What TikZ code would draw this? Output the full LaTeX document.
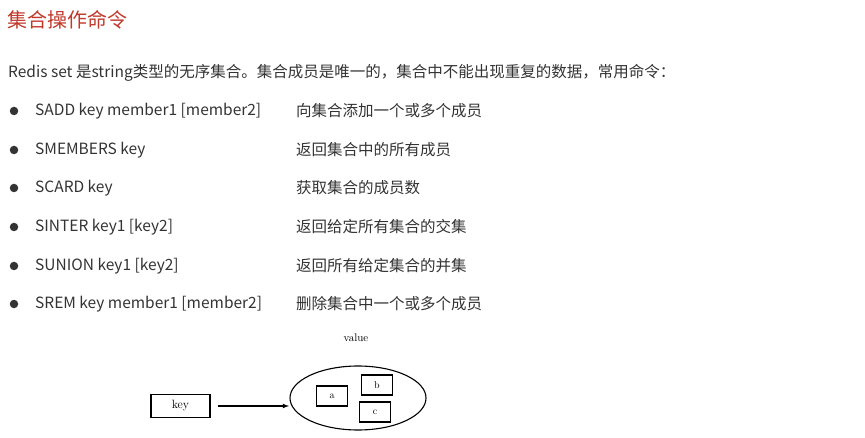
\documentclass[tikz,border=0pt]{standalone}
\usepackage{fontspec}
\setmainfont{Noto Sans CJK SC}
\begin{document}
\begin{tikzpicture}[x=1pt,y=1pt,
  txt/.style={anchor=west,inner sep=0pt,text=textgray,font=\fontsize{15.5}{18}\selectfont},
  bul/.style={circle,fill=textgray,inner sep=0pt,minimum size=8.5pt},
  hand/.style={draw,line width=1.1pt,minimum width=31pt,minimum height=20pt,inner sep=0pt,font=\rmfamily\fontsize{11}{12}\selectfont}]
\definecolor{textgray}{HTML}{333333}
\definecolor{titlered}{HTML}{C0392B}
\useasboundingbox (0,0) rectangle (865,437);
\newfontfamily\lmr{Latin Modern Roman}
\node[anchor=west,inner sep=0pt,text=titlered,font=\fontsize{20}{24}\selectfont] (title) at (7,417) {集合操作命令};
\node[txt] (intro) at (8,364) {Redis set 是string类型的无序集合。集合成员是唯一的，集合中不能出现重复的数据，常用命令：};
\foreach \i/\y/\c/\d in {1/111/SADD key member1 [member2]/向集合添加一个或多个成员,
 2/150/SMEMBERS key/返回集合中的所有成员,
 3/188/SCARD key/获取集合的成员数,
 4/227/SINTER key1 [key2]/返回给定所有集合的交集,
 5/266/SUNION key1 [key2]/返回所有给定集合的并集,
 6/304/SREM key member1 [member2]/删除集合中一个或多个成员}{
  \node[bul] (b\i) at (14,437-\y) {};
  \node[txt] (c\i) at (35,437-\y) {\c};
  \node[txt] (d\i) at (296,437-\y) {\d};
}
\node[font=\lmr\fontsize{11}{12}\selectfont] (value) at (356,99) {value};
\node[hand,minimum width=59pt,minimum height=23pt,font=\lmr\fontsize{12}{12}\selectfont] (key) at (180.5,31) {key};
\node[hand,font=\lmr\fontsize{10}{12}\selectfont] (a) at (332,41) {a};
\node[hand,font=\lmr\fontsize{10}{12}\selectfont] (bb) at (377,52) {b};
\node[hand,font=\lmr\fontsize{10}{12}\selectfont] (c) at (375,25) {c};
\coordinate (setl) at (289,31);
\draw[line width=1.1pt,-latex] (key.east) ++(7,0) -- (setl) node[coordinate] (arrend) {};
\coordinate (ec) at (358,39);
\draw[line width=1.1pt] (ec) ++(135:68 and 32) arc[start angle=135,end angle=-262,x radius=68,y radius=32];
\end{tikzpicture}
\end{document}
